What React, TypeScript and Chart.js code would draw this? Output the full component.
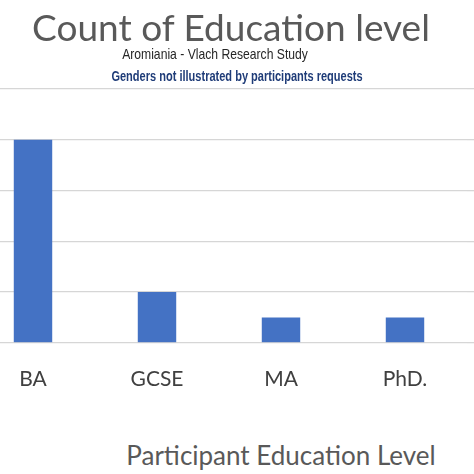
import { useRef, useEffect } from 'react'
import { Chart, registerables } from 'chart.js'

Chart.register(...registerables)

const levels = ['BA', 'GCSE', 'MA', 'PhD.']
const counts = [8, 2, 1, 1]
const yTicks = [0, 2, 4, 6, 8, 10]

const titleText = 'Count of Education level'
const subText = 'Aromiania - Vlach Research Study'
const noteText = 'Genders not illustrated by participants requests'
const axisTitle = 'Participant Education Level'

export default function App() {
  const canvasRef = useRef<HTMLCanvasElement>(null)
  const chartRef = useRef<Chart | null>(null)

  useEffect(() => {
    if (!canvasRef.current) return
    chartRef.current?.destroy()

    chartRef.current = new Chart(canvasRef.current, {
      type: 'bar',
      data: {
        labels: levels,
        datasets: [
          {
            label: 'Count',
            data: counts,
            backgroundColor: '#4472c4',
            categoryPercentage: 1,
            barPercentage: 0.31,
          },
        ],
      },
      options: {
        animation: false,
        responsive: true,
        maintainAspectRatio: false,
        layout: { padding: { top: 89, bottom: 9, left: 0, right: 0 } },
        plugins: {
          legend: { display: false },
          tooltip: { enabled: false },
        },
        scales: {
          x: {
            grid: { display: false },
            border: { display: false },
            ticks: {
              color: '#404040',
              padding: 16,
              font: { family: 'Lato', size: 21 },
            },
          },
          y: {
            position: 'right',
            min: yTicks[0],
            max: yTicks[yTicks.length - 1],
            afterBuildTicks: (axis) => {
              axis.ticks = yTicks.map((v) => ({ value: v }))
            },
            border: { display: false },
            grid: { color: '#d6d6d6', lineWidth: 1.3, drawTicks: true, tickLength: 10 },
            ticks: { display: false },
          },
        },
      },
    })

    return () => {
      chartRef.current?.destroy()
      chartRef.current = null
    }
  }, [])

  return (
    <div
      style={{
        position: 'absolute',
        left: 0,
        top: 0,
        width: 474,
        height: 474,
        overflow: 'hidden',
        background: '#fff',
      }}
    >
      <div style={{ position: 'absolute', left: -29, top: 0, width: 506, height: 417 }}>
        <canvas ref={canvasRef} />
      </div>
      <div
        style={{
          position: 'absolute',
          left: 0,
          top: 8,
          width: 462,
          textAlign: 'center',
          fontFamily: 'Lato',
          fontSize: 37,
          lineHeight: 1,
          color: '#595959',
          whiteSpace: 'nowrap',
        }}
      >
        {titleText}
      </div>
      <div
        style={{
          position: 'absolute',
          left: 0,
          top: 45.5,
          width: 430,
          textAlign: 'center',
          fontFamily: '"Liberation Sans"',
          fontSize: 15,
          lineHeight: 1,
          color: '#262626',
          whiteSpace: 'nowrap',
          transform: 'scaleX(0.81)',
        }}
      >
        {subText}
      </div>
      <div
        style={{
          position: 'absolute',
          left: 0,
          top: 67.5,
          width: 474,
          textAlign: 'center',
          fontFamily: '"Liberation Sans"',
          fontSize: 15,
          fontWeight: 'bold',
          lineHeight: 1,
          color: '#1f3c78',
          whiteSpace: 'nowrap',
          transform: 'scaleX(0.735)',
        }}
      >
        {noteText}
      </div>
      <div
        style={{
          position: 'absolute',
          left: 0,
          top: 442,
          width: 562,
          textAlign: 'center',
          fontFamily: 'Lato',
          fontSize: 26,
          lineHeight: 1,
          color: '#595959',
          whiteSpace: 'nowrap',
        }}
      >
        {axisTitle}
      </div>
    </div>
  )
}
